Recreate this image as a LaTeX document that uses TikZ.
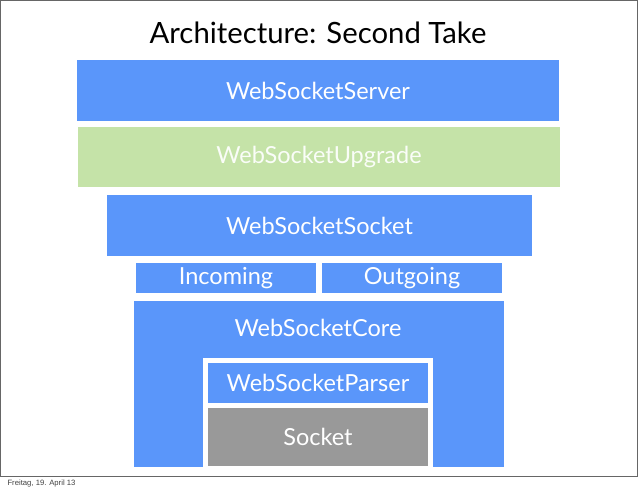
\documentclass[tikz,border=0pt]{standalone}
\usepackage{fontspec}
\setmainfont{Lato}
\newfontfamily\footfont{Liberation Sans}
\usepackage{tikz}

\definecolor{layerblue}{HTML}{5A96FA}
\definecolor{layergreen}{HTML}{C5E3A8}
\definecolor{layergray}{HTML}{999999}

\begin{document}
\begin{tikzpicture}[x=1pt, y=-1pt,
		layer_style/.style={rectangle,fill=layerblue,text=white,inner sep=0pt,font=\fontsize{23.5}{28}\selectfont},
		upgrade_style/.style={layer_style,fill=layergreen,text=white!92!layergreen},
		socket_style/.style={layer_style,fill=layergray},
		frame_style/.style={rectangle,fill=white,inner sep=0pt}]

		\useasboundingbox (0,0) rectangle (638,491);
		\draw[gray!80!black, line width=0.8pt] (0.5,0.5) rectangle (637.5,476);

		\node[font=\fontsize{29.3}{34}\selectfont] (title) at (318,33) {Architecture: Second Take};

		\node[layer_style, minimum width=482, minimum height=61] (server) at (318,90.5) {WebSocketServer};
		\node[upgrade_style, minimum width=482, minimum height=60] (upgrade) at (319,157) {WebSocketUpgrade};
		\node[layer_style, minimum width=425, minimum height=61] (wssocket) at (319.5,225.5) {WebSocketSocket};
		\node[layer_style, minimum width=180, minimum height=30] (incoming) at (226,278) {Incoming};
		\node[layer_style, minimum width=180, minimum height=30] (outgoing) at (412,278) {Outgoing};

		\node[layer_style, minimum width=370, minimum height=166] (core) at (319,384) {};
		\node[text=white, font=\fontsize{23.5}{28}\selectfont] (corelabel) at (318,328) {WebSocketCore};
		\node[frame_style, minimum width=230, minimum height=109] (inner) at (318,412.5) {};
		\node[layer_style, minimum width=220, minimum height=40] (parser) at (318,383) {WebSocketParser};
		\node[socket_style, minimum width=220, minimum height=58] (socket) at (318,437) {Socket};

		\node[anchor=west, font=\footfont\fontsize{7.7}{9}\selectfont, text=black!75] (date) at (4,484) {Freitag, 19. April 13};

\end{tikzpicture}
\end{document}
